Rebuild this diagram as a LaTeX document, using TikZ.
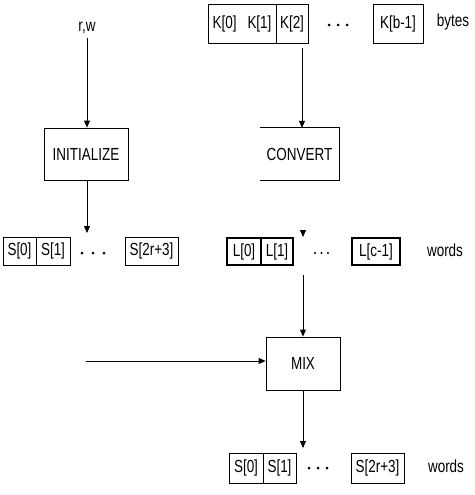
\documentclass[tikz,border=0pt]{standalone}
\usepackage{fontspec}
\setmainfont{Liberation Sans}[FakeStretch=0.77]
\usetikzlibrary{arrows.meta}
\begin{document}
\begin{tikzpicture}[x=1pt,y=-1pt,
  font=\fontsize{17.5}{19}\selectfont,
  box/.style={draw, line width=0.8pt, inner sep=0pt},
  thickbox/.style={draw, line width=1.2pt, inner sep=0pt},
  conn/.style={line width=0.8pt, -{Triangle[length=7pt,width=6pt]}},
  dot/.style={fill=black}]
\useasboundingbox[fill=white] (0,0) rectangle (474,495);

% top K row
\node[box, minimum width=68pt, minimum height=39pt] (k01) at (242,23.5) {K[0]\hspace{11pt}K[1]};
\node[box, minimum width=32pt, minimum height=39pt] (k2) at (292,23.5) {K[2]};
\fill[dot] (329,25) circle (1.5) (338,25) circle (1.5) (347,25) circle (1.5);
\node[box, minimum width=50pt, minimum height=39pt] (kb) at (398,23.5) {K[b-1]};
\node (bytes) at (453,22) {bytes};

% r,w and INITIALIZE
\node (rw) at (87,28) {r,w};
\node[box, minimum width=84pt, minimum height=52pt] (init) at (86,154) {INITIALIZE};
\coordinate (rwout) at (87,38);
\draw[conn] (rwout) -- (rwout |- init.north);

% CONVERT (left edge not drawn)
\node[inner sep=0pt, minimum width=79pt, minimum height=52pt] (conv) at (299.5,154) {CONVERT};
\draw[line width=0.9pt] (conv.north west) -- (conv.north east) -- (conv.south east) -- (conv.south west);
\coordinate (kout) at (302,48);
\draw[conn] (kout) -- (kout |- conv.north);

% S row (left)
\node[box, minimum width=33pt, minimum height=28pt] (s0) at (19.5,251) {S[0]};
\node[box, minimum width=34pt, minimum height=28pt] (s1) at (53,251) {S[1]};
\fill[dot] (82,253) circle (1.5) (93,253) circle (1.5) (104,253) circle (1.5);
\node[box, minimum width=53pt, minimum height=28pt] (sn) at (151.5,251) {S[2r+3]};
\coordinate (sin) at (87,233);
\draw[conn] (init.south -| sin) -- (sin);

% L row
\node[thickbox, minimum width=34pt, minimum height=27pt] (l0) at (244,251.5) {L[0]};
\node[thickbox, minimum width=32pt, minimum height=27pt] (l1) at (277,251.5) {L[1]};
\fill[dot] (315,253) circle (1.1) (321.5,253) circle (1.1) (328,253) circle (1.1);
\node[thickbox, minimum width=48pt, minimum height=27pt] (lc) at (376,251.5) {L[c-1]};
\node (words1) at (445,250) {words};
\coordinate (lin0) at (303,230);
\coordinate (lin) at (303,237);
\draw[conn] (lin0) -- (lin);

% MIX
\node[box, minimum width=74pt, minimum height=53pt] (mix) at (303,363.5) {MIX};
\coordinate (lout) at (303,275);
\draw[conn] (lout) -- (mix.north);
\coordinate (left) at (86,361);
\draw[conn] (left) -- (left -| mix.west);

% bottom S row
\node[box, minimum width=34pt, minimum height=30pt] (b0) at (246,468) {S[0]};
\node[box, minimum width=33pt, minimum height=30pt] (b1) at (279.5,468) {S[1]};
\fill[dot] (309,468) circle (1.5) (318,468) circle (1.5) (327,468) circle (1.5);
\node[box, minimum width=53pt, minimum height=30pt] (bn) at (377.5,468) {S[2r+3]};
\node (words2) at (446,466) {words};
\coordinate (bin) at (303,448);
\draw[conn] (mix.south) -- (bin);
\end{tikzpicture}
\end{document}
